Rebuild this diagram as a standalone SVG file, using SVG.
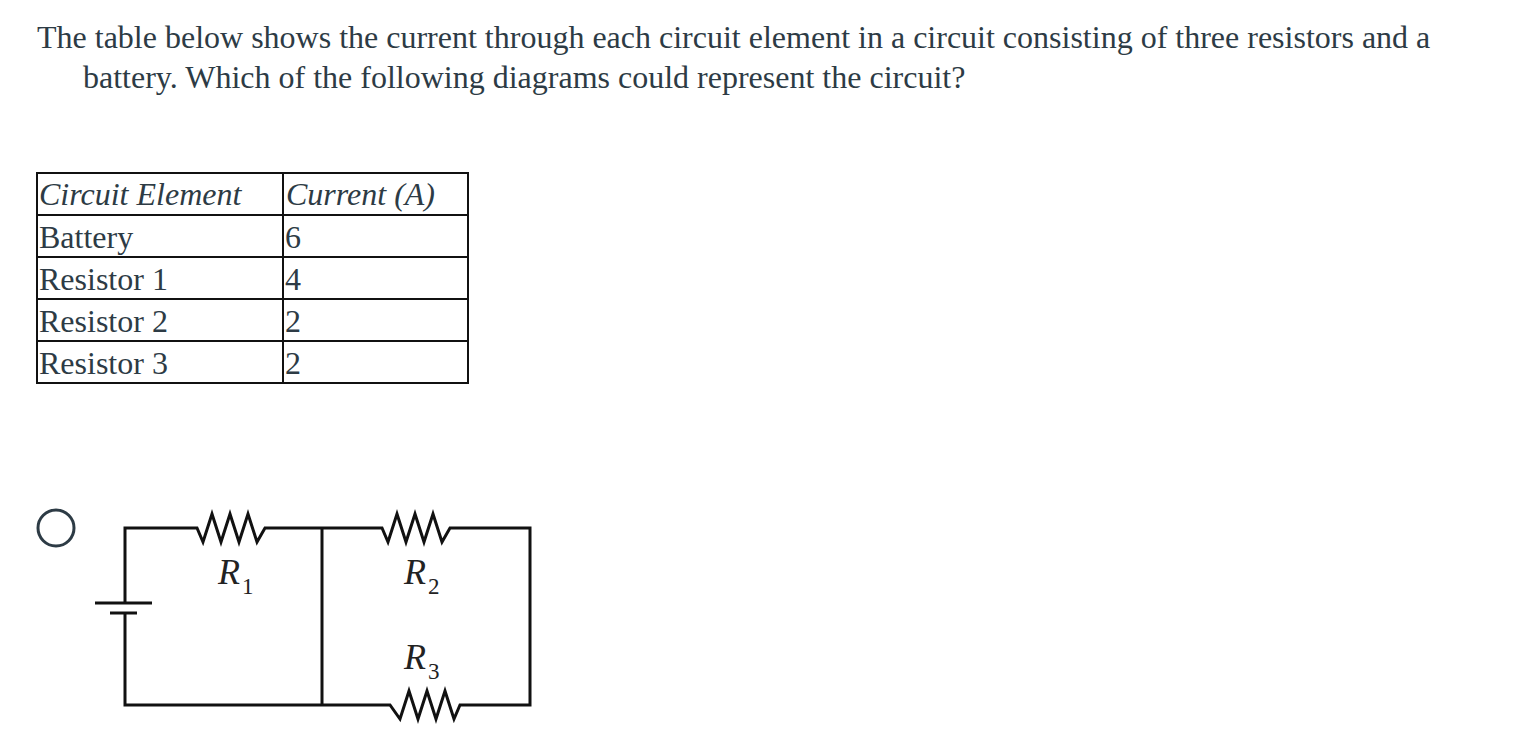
<svg xmlns="http://www.w3.org/2000/svg" width="1526" height="738" viewBox="0 0 1526 738">
<style>
.t{font-family:"Liberation Serif",serif;font-size:32px;fill:#2d3b45}
.i{font-style:italic}
.w{fill:none;stroke:#111;stroke-width:3;stroke-linejoin:miter}
.g{fill:none;stroke:#111;stroke-width:2}
.lab{font-family:"Liberation Serif",serif;font-style:italic;font-size:36px;fill:#222}
.sub{font-family:"Liberation Serif",serif;font-size:23px;fill:#222}
</style>
<rect width="1526" height="738" fill="#fff"/>
<g id="question">
<text class="t" x="37" y="48">The table below shows the current through each circuit element in a circuit consisting of three resistors and a</text>
<text class="t" x="83" y="88">battery. Which of the following diagrams could represent the circuit?</text>
</g>
<g id="table">
<rect class="g" x="37" y="173" width="431" height="210"/>
<path class="g" d="M283 173V383M37 215H468M37 257H468M37 299H468M37 341H468"/>
<text class="t i" x="39" y="205">Circuit Element</text>
<text class="t i" x="286" y="205">Current (A)</text>
<text class="t" x="39" y="248">Battery</text><text class="t" x="285" y="248">6</text>
<text class="t" x="39" y="290">Resistor 1</text><text class="t" x="285" y="290">4</text>
<text class="t" x="39" y="332">Resistor 2</text><text class="t" x="285" y="332">2</text>
<text class="t" x="39" y="374">Resistor 3</text><text class="t" x="285" y="374">2</text>
</g>
<g id="radio"><circle cx="56" cy="528" r="18" fill="none" stroke="#2d3b45" stroke-width="3"/></g>
<g id="connectors">
<path class="w" d="M125 603V528H197L203 542L212 514L221 542L230 514L239 542L248 514L257 542L265 528H382L388 542L397 514L406 542L415 514L424 542L433 514L442 542L450 528H530V705H460L454 719L445 691L436 719L427 691L418 719L409 691L400 719L390 705H125V613"/>
<path class="w" d="M322 528V705"/>
</g>
<g id="battery">
<path d="M95 603H152" stroke="#111" stroke-width="3"/>
<path d="M110 613H137" stroke="#111" stroke-width="3"/>
</g>
<g id="labels">
<text class="lab" x="218" y="584">R</text><text class="sub" x="242" y="594">1</text>
<text class="lab" x="404" y="584">R</text><text class="sub" x="428" y="594">2</text>
<text class="lab" x="404" y="669">R</text><text class="sub" x="428" y="679">3</text>
</g>
</svg>
